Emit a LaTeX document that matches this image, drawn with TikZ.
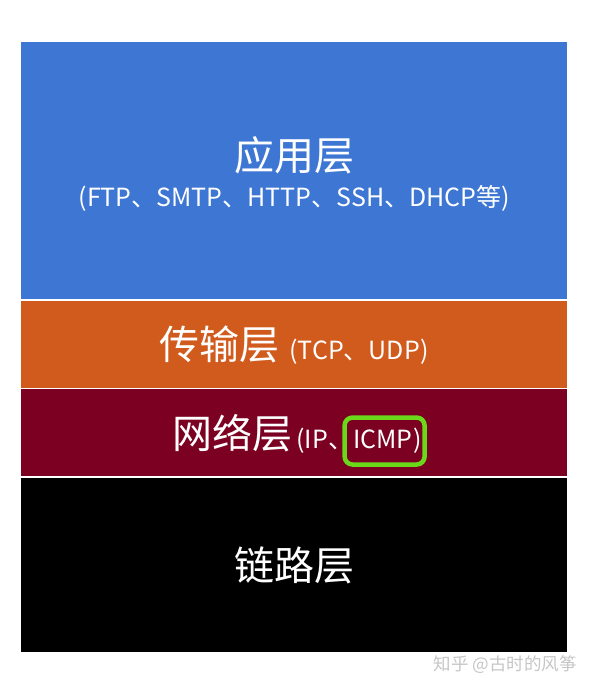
\documentclass[tikz,border=0pt]{standalone}
\usepackage{fontspec}
\setmainfont{Noto Sans CJK SC}
\usetikzlibrary{positioning}
\definecolor{appblue}{RGB}{62,118,211}
\definecolor{transorange}{RGB}{209,91,29}
\definecolor{netred}{RGB}{123,0,33}
\definecolor{icmpgreen}{RGB}{106,217,26}

\begin{document}
\begin{tikzpicture}[x=1pt, y=-1pt,
  layer/.style={rectangle, inner sep=0pt, minimum width=546pt, anchor=north west},
  title/.style={text=white, inner sep=0pt, font=\fontsize{40}{44}\selectfont},
  proto/.style={text=white, inner sep=0pt, font=\fontsize{25}{30}\selectfont},
  icmpbox/.style={draw=icmpgreen, line width=4.5pt, rounded corners=8pt, minimum width=80pt, minimum height=47pt}]

\useasboundingbox (0,0) rectangle (594,692);

% Layers

\node [layer, fill=appblue, minimum height=257pt] (app) at (21,42) {};
\node [layer, fill=transorange, minimum height=87pt] (trans) at (21,301) {};
\node [layer, fill=netred, minimum height=87pt] (net) at (21,389) {};
\node [layer, fill=black, minimum height=174pt] (link) at (21,478) {};

% Labels

\node [title] (apptitle) at ([yshift=15pt]app.center) {应用层};
\node [proto] (appproto) at ([yshift=-28pt]app.center) {(FTP、SMTP、HTTP、SSH、DHCP等)};

\node [title, anchor=base east] (transtitle) at ([xshift=-15pt, yshift=-14.5pt]trans.center) {传输层};
\node [proto, anchor=base west] (transproto) at ([xshift=10pt]transtitle.base east) {(TCP、UDP)};

\node [title, anchor=base east] (nettitle) at ([xshift=-2pt, yshift=-15.5pt]net.center) {网络层};
\node [proto, anchor=base west] (netpre) at ([xshift=4pt]nettitle.base east) {(IP、};
\node [proto, anchor=base west] (icmp) at (netpre.base east) {ICMP};
\node [proto, anchor=base west] (netpost) at (icmp.base east) {)};
\node [icmpbox] (icmpmark) at ([xshift=1.5pt, yshift=-2pt]icmp.center) {};

\node [title] (linktitle) at (link.center) {链路层};

% Watermark

\node [text=gray!45, font=\fontsize{17.5}{20}\selectfont, inner sep=0pt, anchor=east] (mark) at (577,665) {知乎 @古时的风筝};

\end{tikzpicture}
\end{document}
